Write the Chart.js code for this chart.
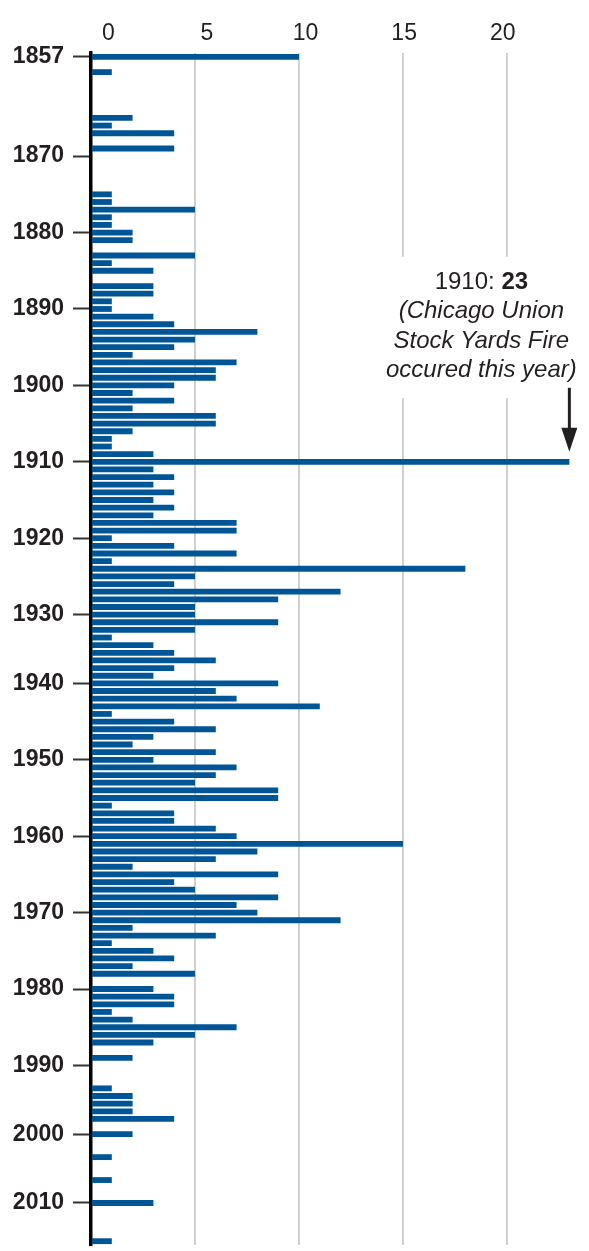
<!DOCTYPE html>
<html>
<head>
    <title>Deaths per year</title>
    <script src="https://cdn.jsdelivr.net/npm/chart.js"></script>
    <meta charset="UTF-8" />
    <style>
  html, body {
    margin: 0;
    padding: 0;
    background: #fff;
  }
  .chart-box {
    width: 589px;
    height: 1251px;
  }
</style>
</head>
<body>
    <div class="chart-box">
    <canvas id="myChart"></canvas>
    </div>
    <script>
        // rows as drawn in the picture (one row per bar slot, top to bottom)
        const years = [
            1857, 1858, 1859, 1860, 1861, 1862, 1863, 1864, 1865, 1866, 1867, 1868, 1869,
            1870, 1871, 1872, 1873, 1874, 1875, 1876, 1877, 1878, 1879,
            1880, 1881, 1882, 1883, 1884, 1885, 1886, 1887, 1888, 1889,
            1890, 1891, 1892, 1893, 1894, 1895, 1896, 1897, 1898, 1899,
            1900, 1901, 1902, 1903, 1904, 1905, 1906, 1907, 1908, 1909,
            1910, 1911, 1912, 1913, 1914, 1915, 1916, 1917, 1918, 1919,
            1920, 1921, 1922, 1923, 1924, 1925, 1926, 1927, 1928, 1929,
            1930, 1931, 1932, 1933, 1934, 1935, 1936, 1937, 1938,
            1940, 1941, 1942, 1943, 1944, 1945, 1946, 1947, 1948, 1949,
            1950, 1951, 1952, 1953, 1954, 1955, 1956, 1957, 1958, 1959,
            1960, 1961, 1962, 1963, 1964, 1965, 1966, 1967, 1968, 1969,
            1970, 1971, 1972, 1973, 1974, 1975, 1976, 1977, 1978, 1979,
            1980, 1981, 1982, 1983, 1984, 1985, 1986, 1987, 1988, 1989,
            1990, 1991, 1992, 1993, 1994, 1995, 1996, 1997, 1998,
            2000, 2001, 2002, 2003, 2004, 2005, 2006, 2007, 2008,
            2010, 2011, 2012, 2013, 2014, 2015
        ];
        const deaths = [
            10, 0, 1, 0, 0, 0, 0, 0, 2, 1, 4, 0, 4,
            0, 0, 0, 0, 0, 1, 1, 5, 1, 1,
            2, 2, 0, 5, 1, 3, 0, 3, 3, 1,
            1, 3, 4, 8, 5, 4, 2, 7, 6, 6,
            4, 2, 4, 2, 6, 6, 2, 1, 1, 3,
            23, 3, 4, 3, 4, 3, 4, 3, 7, 7,
            1, 4, 7, 1, 18, 5, 4, 12, 9, 5,
            5, 9, 5, 1, 3, 4, 6, 4, 3,
            9, 6, 7, 11, 1, 4, 6, 3, 2, 6,
            3, 7, 6, 5, 9, 9, 1, 4, 4, 6,
            7, 15, 8, 6, 2, 9, 4, 5, 9, 7,
            8, 12, 2, 6, 1, 3, 4, 2, 5, 0,
            3, 4, 4, 1, 2, 7, 5, 3, 0, 2,
            0, 0, 0, 1, 2, 2, 2, 4, 0,
            2, 0, 0, 1, 0, 0, 1, 0, 0,
            3, 0, 0, 0, 0, 1
        ];
        const yearTicks = [1857, 1870, 1880, 1890, 1900, 1910, 1920, 1930, 1940,
                           1950, 1960, 1970, 1980, 1990, 2000, 2010];
        const valueTicks = [0, 5, 10, 15, 20];
        const noteLines = ['(Chicago Union', 'Stock Yards Fire', 'occured this year)'];

        const FONT = '"Liberation Sans", Arial, sans-serif';
        const INK = '#231f20';

        // callout next to the biggest bar
        const peakNote = {
            id: 'peakNote',
            afterDatasetsDraw(chart) {
                const ctx = chart.ctx;
                const xs = chart.scales.x, ys = chart.scales.y;
                const peak = deaths.indexOf(Math.max(...deaths));
                const px = xs.getPixelForValue(deaths[peak]);
                const py = ys.getPixelForValue(peak);
                const cx = px - 88;
                ctx.save();
                ctx.fillStyle = '#fff';
                ctx.fillRect(px - 192, py - 205, 212, 141);

                ctx.fillStyle = INK;
                ctx.textBaseline = 'middle';
                ctx.textAlign = 'left';
                const head = years[peak] + ': ';
                const num = String(deaths[peak]);
                ctx.font = '24px ' + FONT;
                const w1 = ctx.measureText(head).width;
                ctx.font = 'bold 24px ' + FONT;
                const w2 = ctx.measureText(num).width;
                let sx = cx - (w1 + w2) / 2;
                ctx.font = '24px ' + FONT;
                ctx.fillText(head, sx, py - 179);
                ctx.font = 'bold 24px ' + FONT;
                ctx.fillText(num, sx + w1, py - 179);

                ctx.textAlign = 'center';
                ctx.font = 'italic 24px ' + FONT;
                noteLines.forEach((t, i) => ctx.fillText(t, cx, py - 150 + i * 29.3));

                // arrow
                ctx.strokeStyle = INK;
                ctx.lineWidth = 3;
                ctx.beginPath();
                ctx.moveTo(px, py - 74);
                ctx.lineTo(px, py - 30);
                ctx.stroke();
                ctx.beginPath();
                ctx.moveTo(px - 8, py - 34);
                ctx.lineTo(px + 8, py - 34);
                ctx.lineTo(px, py - 10);
                ctx.closePath();
                ctx.fill();
                ctx.restore();
            }
        };

        const ctx = document.getElementById('myChart').getContext('2d');
        const myChart = new Chart(ctx, {
            type: 'bar',
            data: {
                labels: years.map(String),
                datasets: [{
                    label: 'Deaths',
                    data: deaths,
                    backgroundColor: '#005596',
                    barPercentage: 0.76,
                    categoryPercentage: 1.0
                }]
            },
            options: {
                indexAxis: 'y',
                responsive: true,
                maintainAspectRatio: false,
                animation: false,
                layout: { padding: { top: 0, right: 3, bottom: 6, left: 0 } },
                plugins: {
                    legend: { display: false },
                    tooltip: { enabled: false }
                },
                scales: {
                    x: {
                        type: 'linear',
                        position: 'top',
                        min: 0,
                        max: 23.8,
                        ticks: { display: false, stepSize: 5, includeBounds: false },
                        grid: { color: '#d0d0d0', lineWidth: 2, drawTicks: false },
                        border: { display: false },
                        afterFit: s => { s.height = 0; }
                    },
                    // label row of the top axis, spaced as in the picture
                    xLabels: {
                        type: 'linear',
                        position: 'top',
                        min: -0.877,
                        max: 24.22,
                        afterBuildTicks: s => { s.ticks = valueTicks.map(v => ({ value: v })); },
                        ticks: {
                            font: { family: FONT, size: 23 },
                            color: INK,
                            padding: 6
                        },
                        grid: { display: false, drawTicks: false },
                        border: { display: false },
                        afterFit: s => { s.height = 53; }
                    },
                    y: {
                        type: 'category',
                        position: 'left',
                        z: 1,
                        ticks: {
                            autoSkip: false,
                            padding: 9,
                            color: INK,
                            font: { family: FONT, size: 23, weight: 'bold' },
                            callback: function (val, i) {
                                return yearTicks.includes(years[i]) ? String(years[i]) : '';
                            }
                        },
                        grid: {
                            offset: false,
                            drawOnChartArea: false,
                            drawTicks: true,
                            tickLength: 18,
                            tickWidth: 2,
                            tickColor: c => (c.tick && c.tick.label ? '#333' : 'rgba(0,0,0,0)')
                        },
                        border: { display: true, color: '#000', width: 3.5 },
                        afterFit: s => {
                            s.width = 91;
                            s.paddingTop = 0;
                            s.paddingBottom = 0;
                        }
                    }
                }
            },
            plugins: [peakNote]
        });
    </script>
</body>
</html>
